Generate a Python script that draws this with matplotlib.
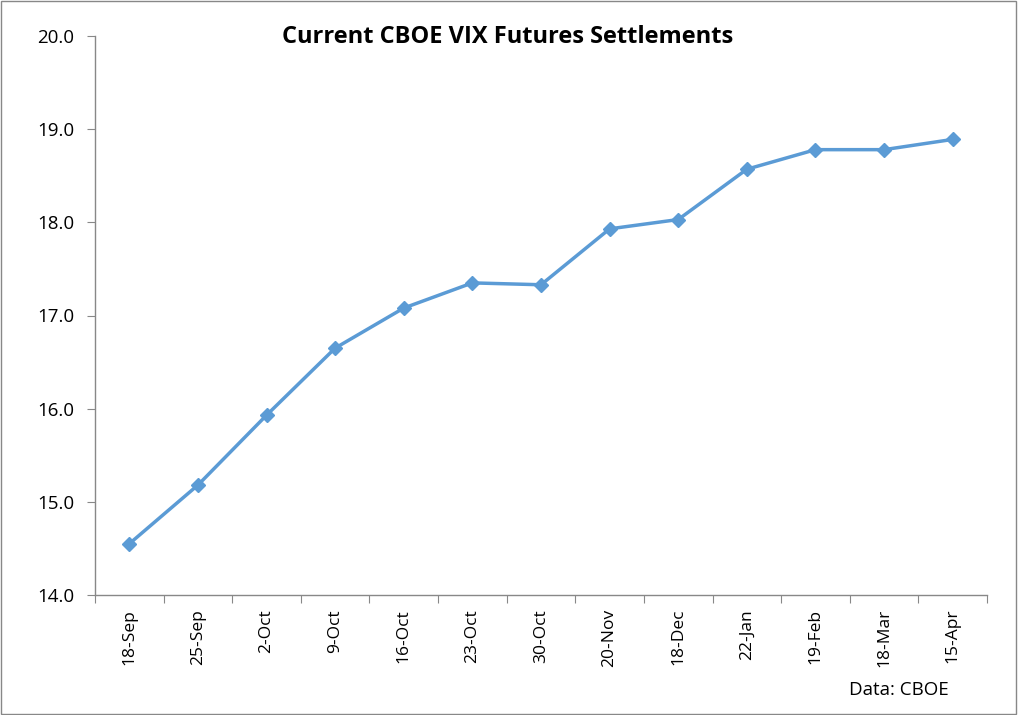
import numpy as np
import matplotlib
matplotlib.use('Agg')
import matplotlib.pyplot as plt
from matplotlib.patches import Rectangle

plt.rcParams['font.family'] = ['Open Sans', 'DejaVu Sans']

# VIX futures settlement by expiry
expiries = ['18-Sep', '25-Sep', '2-Oct', '9-Oct', '16-Oct', '23-Oct', '30-Oct',
            '20-Nov', '18-Dec', '22-Jan', '19-Feb', '18-Mar', '15-Apr']
settle = [14.55, 15.18, 15.93, 16.65, 17.08, 17.35, 17.33,
          17.93, 18.03, 18.57, 18.78, 18.78, 18.89]
y_ticks = [14.0, 15.0, 16.0, 17.0, 18.0, 19.0, 20.0]

fig = plt.figure(figsize=(10.19, 7.15), dpi=100)
ax = fig.add_axes([95 / 1019, 1 - 595 / 715, (987 - 95) / 1019, (595 - 36) / 715])

pos = np.arange(len(expiries)) + 0.5
ax.plot(pos, settle, color='#5B9BD5', lw=2.5, marker='D', ms=7,
        markerfacecolor='#5B9BD5', markeredgecolor='#5B9BD5')

ax.set_xlim(0, len(expiries))
ax.set_ylim(14, 20)
ax.set_yticks(y_ticks)
ax.set_yticklabels([f'{v:.1f}' for v in y_ticks])

# category boundary ticks, labels in the middle
ax.set_xticks(np.arange(len(expiries) + 1))
ax.set_xticklabels([])
ax.set_xticks(pos, minor=True)
ax.set_xticklabels(expiries, minor=True, rotation=90)
ax.tick_params(axis='x', which='minor', length=0, pad=10, labelsize=12.5)
ax.tick_params(axis='x', which='major', length=6, color='#888888', direction='out')
ax.tick_params(axis='y', length=6, color='#888888', labelsize=13.5, pad=9)

for s in ['top', 'right']:
    ax.spines[s].set_visible(False)
for s in ['left', 'bottom']:
    ax.spines[s].set_color('#888888')
    ax.spines[s].set_linewidth(1)

fig.text(508 / 1019, 1 - 37 / 715, 'Current CBOE VIX Futures Settlements',
         ha='center', va='center', fontsize=17, fontweight='bold')
fig.text(899 / 1019, 1 - 690 / 715, 'Data: CBOE', ha='center', va='center',
         fontsize=13.5)

fig.patches.append(Rectangle((0.0005, 0.002), 0.997, 0.996, transform=fig.transFigure,
                             fill=False, edgecolor='#888888', lw=1))

fig.savefig('out.png', dpi=100)
